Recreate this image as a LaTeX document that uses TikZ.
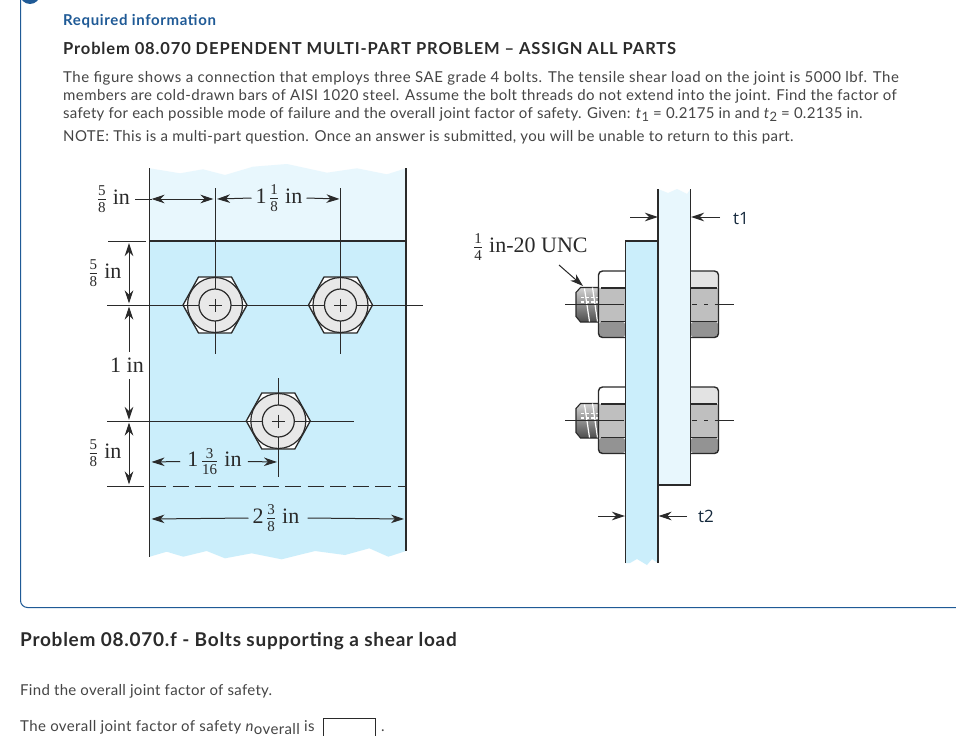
\documentclass[tikz,border=0pt]{standalone}
\usepackage{fontspec}
\setmainfont{Lato}
\newfontfamily\figfont{Liberation Serif}
\newfontfamily\tfont{Open Sans}
\usetikzlibrary{arrows.meta}
\definecolor{panelblue}{HTML}{1F5A96}
\definecolor{bodygrey}{HTML}{454545}
\definecolor{headgrey}{HTML}{2B2B2B}
\definecolor{platedark}{HTML}{CBEEFB}
\definecolor{platelight}{HTML}{E8F7FD}
\definecolor{ink}{HTML}{2A2A2A}
\definecolor{tink}{HTML}{14283C}
\newcommand{\sfr}[2]{$\vcenter{\offinterlineskip\halign{\hfil##\hfil\cr\hbox{\fontsize{15}{15}\selectfont #1}\cr\noalign{\vskip3pt\hrule height .7pt\vskip3pt}\hbox{\fontsize{15}{15}\selectfont #2}\cr}}$}
\newcommand{\ls}[1]{\addfontfeature{LetterSpace=#1}}
\tikzset{
  x=1pt,y=-1pt,
  head/.style={anchor=base west,inner sep=0pt,text=panelblue,font=\fontsize{15}{15}\selectfont\bfseries},
  title/.style={anchor=base west,inner sep=0pt,text=headgrey,font=\fontsize{16.5}{16.5}\selectfont\bfseries},
  body/.style={anchor=base west,inner sep=0pt,text=bodygrey,font=\fontsize{15}{15}\selectfont},
  dimlabel/.style={inner sep=0pt,text=ink,font=\figfont\fontsize{22}{22}\selectfont},
  tlabel/.style={inner sep=0pt,text=tink,font=\tfont\fontsize{17}{17}\selectfont},
  plateedge/.style={draw=ink,line width=1.2pt},
  centre/.style={draw=ink,line width=.8pt},
  dim/.style={draw=ink,line width=1pt,{Stealth[length=13pt,width=8.5pt,inset=4pt]}-{Stealth[length=13pt,width=8.5pt,inset=4pt]}},
  dimend/.style={draw=ink,line width=1pt,-{Stealth[length=13pt,width=8.5pt,inset=4pt]}},
  dimplain/.style={draw=ink,line width=1pt},
  pics/boltback/.style={code={
    \draw[ink,line width=1.3pt,fill=white] (-32,0)--(-16.5,-28)--(16.5,-28)--(32,0)--(16.5,28)--(-16.5,28)--cycle;
    \draw[ink,line width=1.2pt,fill=gray!18] (0,0) circle[radius=27.5];
  }},
  pics/boltfront/.style={code={
    \draw[ink,line width=1.2pt,fill=gray!18] (0,0) circle[radius=16];
    \draw[ink,line width=.6pt] (-6.5,0)--(6.5,0) (0,-6.5)--(0,6.5);
  }},
  pics/sidebolt/.style={code={
    % threaded end
    \path[top color=gray!35,bottom color=gray!60!black,draw=ink,line width=1.1pt]
      (-27,-17)--(-45,-17)--(-49.5,-12)--(-49.5,12)--(-45,17.5)--(-27,17.5)--cycle;
    \draw[white,line width=1.2pt] (-41,-16)--(-36,17) (-33,-17)--(-28,17);
    \draw[white,line width=1.3pt,densely dashed] (-45,-7)--(-27,-7) (-45,-2.5)--(-27,-2.5);
    % left nut
    \fill[white,rounded corners=4pt] (0,-33.5)--(-27,-33.5)--(-27,-16)--(0,-16)--cycle;
    \fill[gray!50] (-27,-16.5) rectangle (0,17);
    \fill[gray!85,rounded corners=4pt] (0,17)--(-27,17)--(-27,33)--(0,33)--cycle;
    \draw[ink,line width=1.4pt,rounded corners=4pt] (0,-33.5)--(-27,-33.5)--(-27,33)--(0,33);
    \draw[ink,line width=1.3pt] (-25,-16.5)--(0,-16.5) (-25,17)--(0,17);
    % right nut
    \fill[gray!22,rounded corners=4pt] (65,-33.5)--(93,-33.5)--(93,-16)--(65,-16)--cycle;
    \fill[gray!50] (65,-16.5) rectangle (93,17);
    \fill[gray!85,rounded corners=4pt] (65,17)--(93,17)--(93,33)--(65,33)--cycle;
    \draw[ink,line width=1.4pt,rounded corners=4pt] (65,-33.5)--(93,-33.5)--(93,33)--(65,33);
    \draw[ink,line width=1.3pt] (65,-16.5)--(91,-16.5) (65,17)--(91,17);
    % centre line
    \draw[centre] (-60.5,0)--(-2,0);
    \draw[centre] (66.5,0)--(71.5,0) (78.5,0)--(82,0) (89,0)--(108.5,0);
  }},
}
\begin{document}
\begin{tikzpicture}
\useasboundingbox (0,0) rectangle (956,736);
\fill[white] (0,0) rectangle (956,736);

% panel frame
\coordinate (frametop) at (20.5,0);
\coordinate (frameright) at (956,607.5);
\begin{scope}
\clip (0,0) rectangle (956,736);
\fill[panelblue] (30,-6) circle[radius=10];
\end{scope}
\draw[panelblue,line width=1pt,rounded corners=7pt] (frametop) -- (20.5,607.5) -- (frameright);

% header text
\node[head] (reqinfo) at (63,25) {\ls{4.3}Required information};
\node[title] (probtitle) at (63,54.5) {\ls{5.2}Problem 08.070 DEPENDENT MULTI-PART PROBLEM -- ASSIGN ALL PARTS};
\node[body] (l1) at (63,82) {\ls{3.45}The figure shows a connection that employs three SAE grade 4 bolts. The tensile shear load on the joint is 5000 lbf. The};
\node[body] (l2) at (63,100.5) {\ls{2.75}members are cold-drawn bars of AISI 1020 steel. Assume the bolt threads do not extend into the joint. Find the factor of};
\node[body] (l3) at (63,118.5) {\ls{1.9}safety for each possible mode of failure and the overall joint factor of safety. Given: \textit{t}\raisebox{-3pt}{\fontsize{13}{13}\selectfont 1} = 0.2175 in and \textit{t}\raisebox{-3pt}{\fontsize{13}{13}\selectfont 2} = 0.2135 in.};
\node[body] (l4) at (63,141) {\ls{2.6}NOTE: This is a multi-part question. Once an answer is submitted, you will be unable to return to this part.};

% plan view: plates
\fill[platelight] (149.7,168.3)--(180,173.3)--(203,169.3)--(225,175)--(253,166.7)--(287,164)--(327,172.7)--(357,168.3)--(387,174.3)--(406,168.3)--(406,241)--(149.7,241)--cycle;
\fill[platedark] (149.7,241)--(406,241)--(406,551)--(388.3,556.7)--(369.3,548.3)--(345,555)--(315,551)--(281.7,559.3)--(251.7,553.3)--(225,558.3)--(206.7,551)--(183.3,556.7)--(166.7,551.7)--(149.7,556.7)--cycle;
\draw[plateedge] (149.7,168.3)--(149.7,556.7);
\draw[plateedge] (406,168.3)--(406,551);
\draw[plateedge] (149.7,241)--(406,241);
\draw[ink,line width=1pt,dash pattern=on 16pt off 6.5pt] (150,486)--(406,486);

% plan view: bolts
\coordinate (boltA) at (215,305);
\coordinate (boltB) at (340.5,305);
\coordinate (boltC) at (278.3,421);
\pic at (boltA) {boltback};
\pic at (boltB) {boltback};
\pic at (boltC) {boltback};
\draw[centre] (215,188)--(215,354);
\draw[centre] (340.5,188)--(340.5,354);
\draw[centre] (107,305)--(423,305);
\draw[centre] (107,421)--(354,421);
\draw[centre] (278.3,378)--(278.3,477);
\pic at (boltA) {boltfront};
\pic at (boltB) {boltfront};
\pic at (boltC) {boltfront};
\draw[centre] (108,241)--(146,241);
\draw[centre] (107,486)--(144,486);

% plan view: dimensions
\node[dimlabel] (d58a) at (114,199) {\sfr{5}{8}\,\,in};
\node[dimlabel] (d118) at (279,198) {1\,\sfr{1}{8}\,\,in};
\node[dimlabel] (d58b) at (105.5,273) {\sfr{5}{8}\,\,in};
\node[dimlabel] (d1) at (127,365) {1 in};
\node[dimlabel] (d58c) at (105.5,453) {\sfr{5}{8}\,\,in};
\node[dimlabel] (d1316) at (214.5,461.5) {1\,\sfr{3}{16}\,\,in};
\node[dimlabel] (d238) at (276,518) {2\,\sfr{3}{8}\,\,in};

\coordinate (d1top) at (129,352);
\coordinate (d1bot) at (129,379);
\draw[dimplain] (d58a.east) ++(5,0) -- (151.5,199);
\draw[dim] (151.5,199)--(213.5,199);
\draw[dimend] ([xshift=-4pt]d118.west) -- (217,199);
\draw[dimend] ([xshift=4pt]d118.east) -- (339.5,199);
\draw[dim] (129,243)--(129,303.5);
\draw[dimend] (d1top) -- (129,306.5);
\draw[dimend] (d1bot) -- (129,420);
\draw[dim] (129,422.5)--(129,484.5);
\draw[dimend] ([xshift=-7pt]d1316.west) -- (151.5,462);
\draw[dimend] ([xshift=6pt]d1316.east) -- (277,462);
\draw[dimend] ([xshift=-4pt]d238.west) -- (151.5,519);
\draw[dimend] ([xshift=8pt]d238.east) -- (404,519);

% side view
\coordinate (sideA) at (625.5,304.5);
\coordinate (sideB) at (625.5,420.5);
\pic at (sideA) {sidebolt};
\pic at (sideB) {sidebolt};
\fill[platedark] (625.5,241)--(658,241)--(658,563)--(652,559)--(647,565)--(637,559)--(630,563)--(625.5,563)--cycle;
\fill[platelight] (658,189)--(668,193)--(677,189)--(687,194)--(690.5,189)--(690.5,485)--(658,485)--cycle;
\draw[plateedge] (625.5,563)--(625.5,241)--(658,241);
\draw[plateedge] (658,189)--(658,563);
\draw[plateedge] (690.5,189)--(690.5,485)--(658,485);

\node[dimlabel] (unc) at (531,247) {\sfr{1}{4}\,\,in-20 UNC};
\coordinate (threadtip) at (583,286);
\coordinate (uncfoot) at (559,265);
\draw[dimend] (uncfoot) -- (threadtip);

\node[tlabel] (t1) at (741,219) {t1};
\node[tlabel] (t2) at (706,516.5) {t2};
\coordinate (t1a) at (630,217);
\coordinate (t1b) at (658,217);
\coordinate (t1c) at (720,217);
\coordinate (t1d) at (691,217);
\coordinate (t2a) at (598,516);
\coordinate (t2b) at (625,516);
\coordinate (t2c) at (687,516);
\coordinate (t2d) at (658.5,516);
\draw[dimend] (t1a)--(t1b);
\draw[dimend] (t1c)--(t1d);
\draw[dimend] (t2a)--(t2b);
\draw[dimend] (t2c)--(t2d);

% part f
\node[anchor=base west,inner sep=0pt,text=headgrey,font=\fontsize{19}{19}\selectfont\bfseries] (partf) at (20,646) {\ls{3.85}Problem 08.070.f - Bolts supporting a shear load};
\node[body] (find) at (20,695) {\ls{2}Find the overall joint factor of safety.};
\node[body] (ans) at (20,731) {\ls{2.7}The overall joint factor of safety \textit{n}\raisebox{-3.5pt}{overall} is};
\draw[ink,line width=1pt] (323.5,737)--(323.5,718.5)--(375.5,718.5)--(375.5,737);
\node[body] (dot) at (381,731) {.};
\end{tikzpicture}
\end{document}
